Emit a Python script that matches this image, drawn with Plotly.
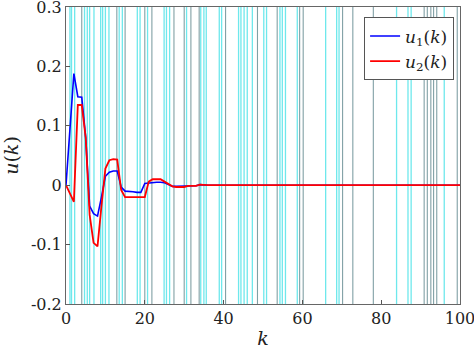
import plotly.graph_objects as go

# sample instants
k_vals = list(range(0, 41)) + [100]
u1 = [0.0, 0.095, 0.188, 0.149, 0.148, 0.08, -0.035, -0.048, -0.052, -0.02,
      0.015, 0.022, 0.024, 0.024, -0.003, -0.01, -0.01, -0.011, -0.012, -0.012,
      0.003, 0.004, 0.005, 0.005, 0.005, 0.004, 0.001, -0.002, -0.002, -0.002,
      -0.002, -0.001, -0.001, -0.001, 0.001, 0.0, 0.0, 0.0, 0.0, 0.0, 0.0, 0.0]
u2 = [0.0, -0.015, -0.028, 0.135, 0.135, 0.08, -0.05, -0.097, -0.103, -0.035,
      0.028, 0.042, 0.044, 0.043, -0.008, -0.02, -0.02, -0.02, -0.02, -0.02,
      -0.02, 0.006, 0.01, 0.01, 0.01, 0.006, 0.002, -0.002, -0.003, -0.003,
      -0.003, -0.001, -0.001, -0.001, 0.001, 0.0, 0.0, 0.0, 0.0, 0.0, 0.0, 0.0]

# triggering instants
cyan_k = [1, 1.4, 2.2, 4.7, 5.4, 6, 7.1, 8.8, 9.3, 10, 10.9, 13.5, 14.3, 18.1, 18.8,
          20.7, 24.9, 25.5, 26.3, 30.6, 34.2, 35, 35.6, 38.9, 39.5, 43.8, 44.4, 45.2,
          46, 47.3, 50.2, 50.9, 54.3, 54.9, 55.7, 58.7, 65.9, 68.7, 69.3, 83.9, 86.8,
          87.6, 96]
gray_k = [4, 12.9, 15, 20, 21.8, 27.4, 30, 31.7, 33.8, 40.5, 48.6, 53.6, 59.3, 60.2,
          70.2, 72.8, 78, 90.9, 91.7, 92.6, 93.3, 94.1, 99.3]

x_ticks = [0, 20, 40, 60, 80, 100]
y_ticks = [-0.2, -0.1, 0, 0.1, 0.2, 0.3]
y_tick_text = ["-0.2", "-0.1", "0", "0.1", "0.2", "0.3"]
y_lo, y_hi = -0.2, 0.3


def vlines(ks):
    xs, ys = [], []
    for k in ks:
        xs += [k, k, None]
        ys += [y_lo, y_hi, None]
    return xs, ys


fig = go.Figure()
cx, cy = vlines(cyan_k)
gx, gy = vlines(gray_k)
fig.add_trace(go.Scatter(x=cx, y=cy, mode="lines", line=dict(color="rgb(110,232,236)", width=1.3),
                         showlegend=False, hoverinfo="skip"))
fig.add_trace(go.Scatter(x=gx, y=gy, mode="lines", line=dict(color="rgb(128,160,165)", width=1.1),
                         showlegend=False, hoverinfo="skip"))
fig.add_trace(go.Scatter(x=k_vals, y=u1, mode="lines", line=dict(color="rgb(0,0,255)", width=1.6),
                         name="<i>u</i><sub>1</sub>(<i>k</i>)"))
fig.add_trace(go.Scatter(x=k_vals, y=u2, mode="lines", line=dict(color="rgb(255,0,0)", width=1.8),
                         name="<i>u</i><sub>2</sub>(<i>k</i>)"))

font_family = "DejaVu Serif"
fig.update_layout(
    width=474, height=353,
    margin=dict(l=66, r=14, t=7, b=49, autoexpand=False),
    paper_bgcolor="white", plot_bgcolor="white",
    font=dict(family=font_family, size=16, color="#222"),
    showlegend=True,
    legend=dict(x=0.985, y=0.965, xanchor="right", yanchor="top",
                bgcolor="white", bordercolor="#555", borderwidth=1,
                font=dict(family=font_family, size=17), tracegroupgap=0, itemwidth=30),
    xaxis=dict(range=[0, 100], tickvals=x_ticks, ticks="inside", ticklen=4, automargin=False,
               tickcolor="#555", showgrid=False, zeroline=False, ticklabeloverflow="allow",
               tickfont=dict(family=font_family, size=16),
               showline=True, linecolor="#666", linewidth=1, mirror=True,
               title=dict(text="<i>k</i>", standoff=4, font=dict(family=font_family, size=19))),
    yaxis=dict(range=[y_lo, y_hi], tickvals=y_ticks, ticktext=y_tick_text, ticks="inside",
               ticklen=4, tickcolor="#555", showgrid=False, zeroline=False, ticklabeloverflow="allow",
               tickfont=dict(family=font_family, size=16), automargin=False,
               showline=True, linecolor="#666", linewidth=1, mirror=True,
               title=dict(text="<i>u</i>(<i>k</i>)", standoff=8, font=dict(family=font_family, size=19))),
)

fig.write_html("out.html")
